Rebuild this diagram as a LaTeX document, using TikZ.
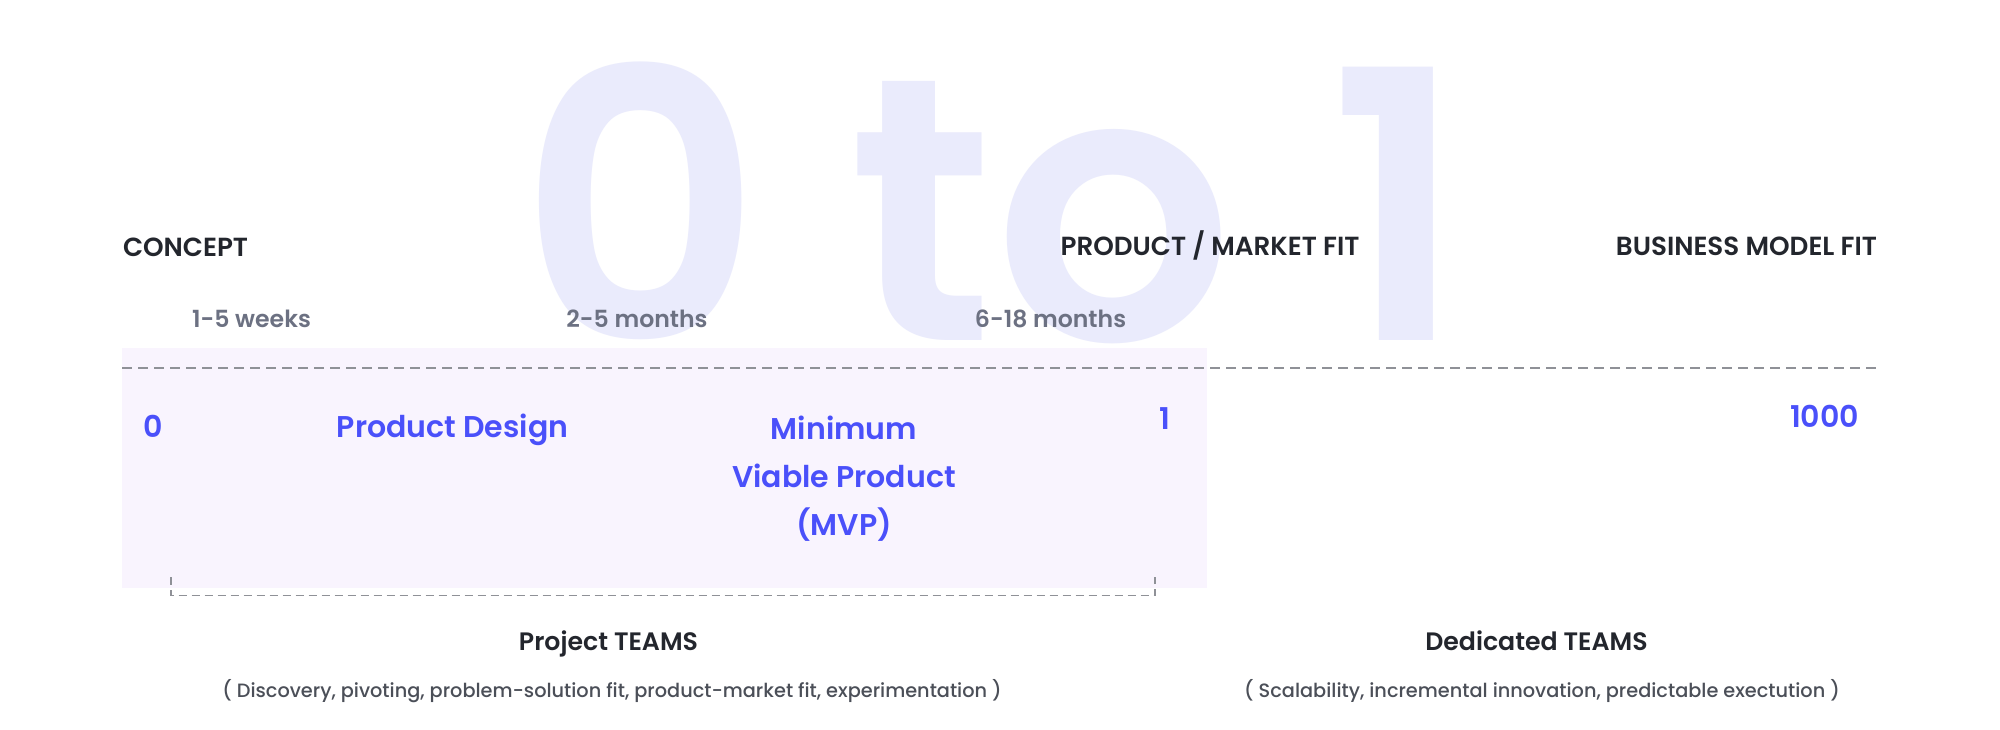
\documentclass[tikz,border=0pt]{standalone}
\usepackage{fontspec}
\setmainfont{Poppins}
\IfFontExistsTF{Poppins Medium}{\newfontfamily\pmed{Poppins Medium}}{%
  \IfFontExistsTF{Poppins-Medium.ttf}{\newfontfamily\pmed{Poppins-Medium.ttf}}{%
    \newfontfamily\pmed{Poppins}[FakeBold=1.2]}}
\IfFontExistsTF{Poppins SemiBold}{\newfontfamily\psemi{Poppins SemiBold}}{%
  \IfFontExistsTF{Poppins-SemiBold.ttf}{\newfontfamily\psemi{Poppins-SemiBold.ttf}}{%
    \newfontfamily\psemi{Poppins}[FakeBold=2]}}
\definecolor{bigc}{HTML}{EAEBFC}
\definecolor{pinkbg}{HTML}{F9F4FE}
\definecolor{accent}{HTML}{4A50FA}
\definecolor{darktxt}{HTML}{23262D}
\definecolor{durtxt}{HTML}{6C7182}
\definecolor{subtxt}{HTML}{4B4F58}
\definecolor{dashc}{HTML}{8F9197}
\tikzset{
  txt/.style={inner sep=0pt, outer sep=0pt},
  bigtxt/.style={txt, text=bigc, font=\psemi\fontsize{375}{380}\selectfont},
  headtxt/.style={txt, text=darktxt, font=\psemi\fontsize{26.2}{30}\selectfont},
  durlab/.style={txt, text=durtxt, font=\psemi\fontsize{23.6}{28}\selectfont},
  bluetxt/.style={txt, text=accent, font=\psemi\fontsize{30}{40}\selectfont},
  teamtxt/.style={txt, text=darktxt, font=\psemi\fontsize{25.2}{30}\selectfont},
  subdesc/.style={txt, text=subtxt, font=\pmed\fontsize{19.3}{24}\selectfont},
  dashline/.style={draw=dashc, line width=2pt, dash pattern=on 10pt off 6pt},
  bracketline/.style={draw=dashc, line width=1.5pt, dash pattern=on 8pt off 5pt},
}
\begin{document}
\begin{tikzpicture}[x=1pt,y=-1pt]
\useasboundingbox (0,0) rectangle (2000,729);
\fill[white] (0,0) rectangle (2000,729);
% big background title
\node[bigtxt, anchor=base] (zero) at (641,340) {0};
\node[bigtxt, anchor=base] (to) at (1041,340) {to};
\node[bigtxt, anchor=base] (one) at (1397,340) {1};
% phase zone
\node[fill=pinkbg, inner sep=0pt, minimum width=1085pt, minimum height=240pt, anchor=north west] (zone) at (122,348) {};
% headers
\node[headtxt, anchor=base west] (concept) at (123,256) {CONCEPT};
\node[headtxt, anchor=base] (pmf) at (1210,255) {PRODUCT / MARKET FIT};
\node[headtxt, anchor=base east] (bmf) at (1877,255) {BUSINESS MODEL FIT};
% durations
\node[durlab, anchor=base] (d1) at (251.5,327) {1-5 weeks};
\node[durlab, anchor=base] (d2) at (637,327) {2-5 months};
\node[durlab, anchor=base] (d3) at (1050.5,327) {6-18 months};
% dashed timeline
\coordinate (tl) at (122,368);
\coordinate (tr) at (1878,368);
\draw[dashline] (tl) -- (tr);
% blue labels
\node[bluetxt, anchor=base west] (n0) at (143,437) {0};
\node[bluetxt, anchor=base] (pd) at (452.5,437) {Product Design};
\node[bluetxt, anchor=base] (mvp1) at (844,439) {Minimum};
\node[bluetxt, anchor=base] (mvp2) at (844,487) {Viable Product};
\node[bluetxt, anchor=base] (mvp3) at (844,535) {(MVP)};
\node[bluetxt, anchor=base] (n1) at (1164.5,429) {1};
\node[bluetxt, anchor=base east] (n1000) at (1859,427) {1000};
% bracket
\coordinate (bl) at (171,577);
\coordinate (br) at (1155,577);
\draw[bracketline] (bl) -- ++(0,18.5) -| (br);
% teams
\node[teamtxt, anchor=base] (pt) at (608.5,650) {Project TEAMS};
\node[subdesc, anchor=base] (ptd) at (612,697) {( Discovery, pivoting, problem-solution fit, product-market fit, experimentation )};
\node[teamtxt, anchor=base] (dt) at (1536.5,650) {Dedicated TEAMS};
\node[subdesc, anchor=base] (dtd) at (1542,697) {( Scalability, incremental innovation, predictable exectution )};
\end{tikzpicture}
\end{document}
